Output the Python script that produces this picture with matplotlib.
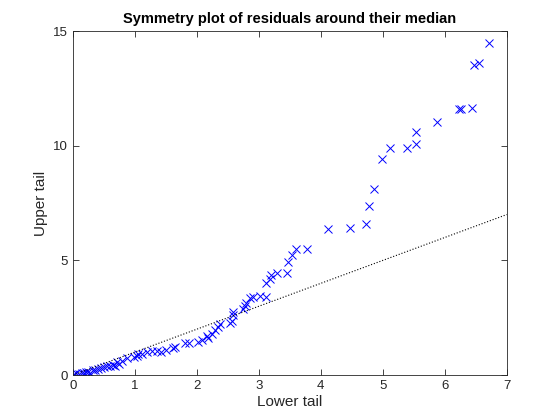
import matplotlib
matplotlib.use("Agg")
import matplotlib.pyplot as plt

plt.rcParams['font.family'] = ['Liberation Sans', 'DejaVu Sans']

# lower tail (distance below median) vs upper tail (distance above median)
lower = [0.02, 0.05, 0.10, 0.15, 0.18, 0.22, 0.25, 0.28, 0.32, 0.36,
         0.40, 0.45, 0.50, 0.55, 0.60, 0.65, 0.68, 0.72, 0.75, 0.80,
         0.87, 0.98, 1.03, 1.05, 1.12, 1.19, 1.27, 1.35, 1.43, 1.51,
         1.62, 1.65, 1.81, 1.88, 2.02, 2.08, 2.16, 2.18, 2.24, 2.29,
         2.34, 2.37, 2.53, 2.56, 2.58, 2.59, 2.75, 2.77, 2.80, 2.85,
         2.91, 3.02, 3.11, 3.12, 3.18, 3.20, 3.30, 3.45, 3.47, 3.53,
         3.60, 3.77, 4.11, 4.47, 4.73, 4.78, 4.85, 4.99, 5.11, 5.39,
         5.54, 5.54, 5.88, 6.23, 6.26, 6.44, 6.47, 6.55, 6.71]
upper = [0.05, 0.08, 0.05, 0.10, 0.08, 0.12, 0.15, 0.10, 0.20, 0.22,
         0.28, 0.30, 0.35, 0.40, 0.38, 0.45, 0.40, 0.55, 0.50, 0.62,
         0.73, 0.80, 0.84, 0.94, 0.92, 1.02, 1.05, 1.05, 1.02, 1.09,
         1.16, 1.23, 1.38, 1.41, 1.45, 1.53, 1.70, 1.62, 1.80, 1.96,
         2.11, 2.22, 2.28, 2.35, 2.60, 2.76, 2.90, 3.02, 3.15, 3.38,
         3.41, 3.44, 3.41, 4.00, 4.21, 4.36, 4.46, 4.46, 4.94, 5.23,
         5.48, 5.48, 6.35, 6.40, 6.58, 7.36, 8.10, 9.40, 9.88, 9.88,
         10.09, 10.60, 11.02, 11.59, 11.59, 11.63, 13.52, 13.59, 14.47]
ref_x = [0, 7]
ref_y = [0, 7]

fig = plt.figure(figsize=(5.6, 4.2), dpi=100)
ax = fig.add_axes([0.13, 0.107, 0.775, 0.819])

ax.plot(lower, upper, 'x', color=(0, 0, 1), markersize=5.5, markeredgewidth=0.7)
ax.plot(ref_x, ref_y, ':', color='black', linewidth=0.8)

ax.set_xlim(0, 7)
ax.set_ylim(0, 15)
ax.set_xticks(range(0, 8))
ax.set_yticks([0, 5, 10, 15])

axcol = (0.15, 0.15, 0.15)
ax.tick_params(direction='in', top=True, right=True, length=4, width=0.6,
               labelsize=9.5, colors=axcol)
for s in ax.spines.values():
    s.set_linewidth(0.6)
    s.set_color(axcol)

ax.set_title('Symmetry plot of residuals around their median',
             fontsize=10.5, fontweight='bold', pad=6)
ax.set_xlabel('Lower tail', fontsize=11, color=axcol, labelpad=2)
ax.set_ylabel('Upper tail', fontsize=11, color=axcol, labelpad=4)

fig.savefig('out.png', dpi=100)
